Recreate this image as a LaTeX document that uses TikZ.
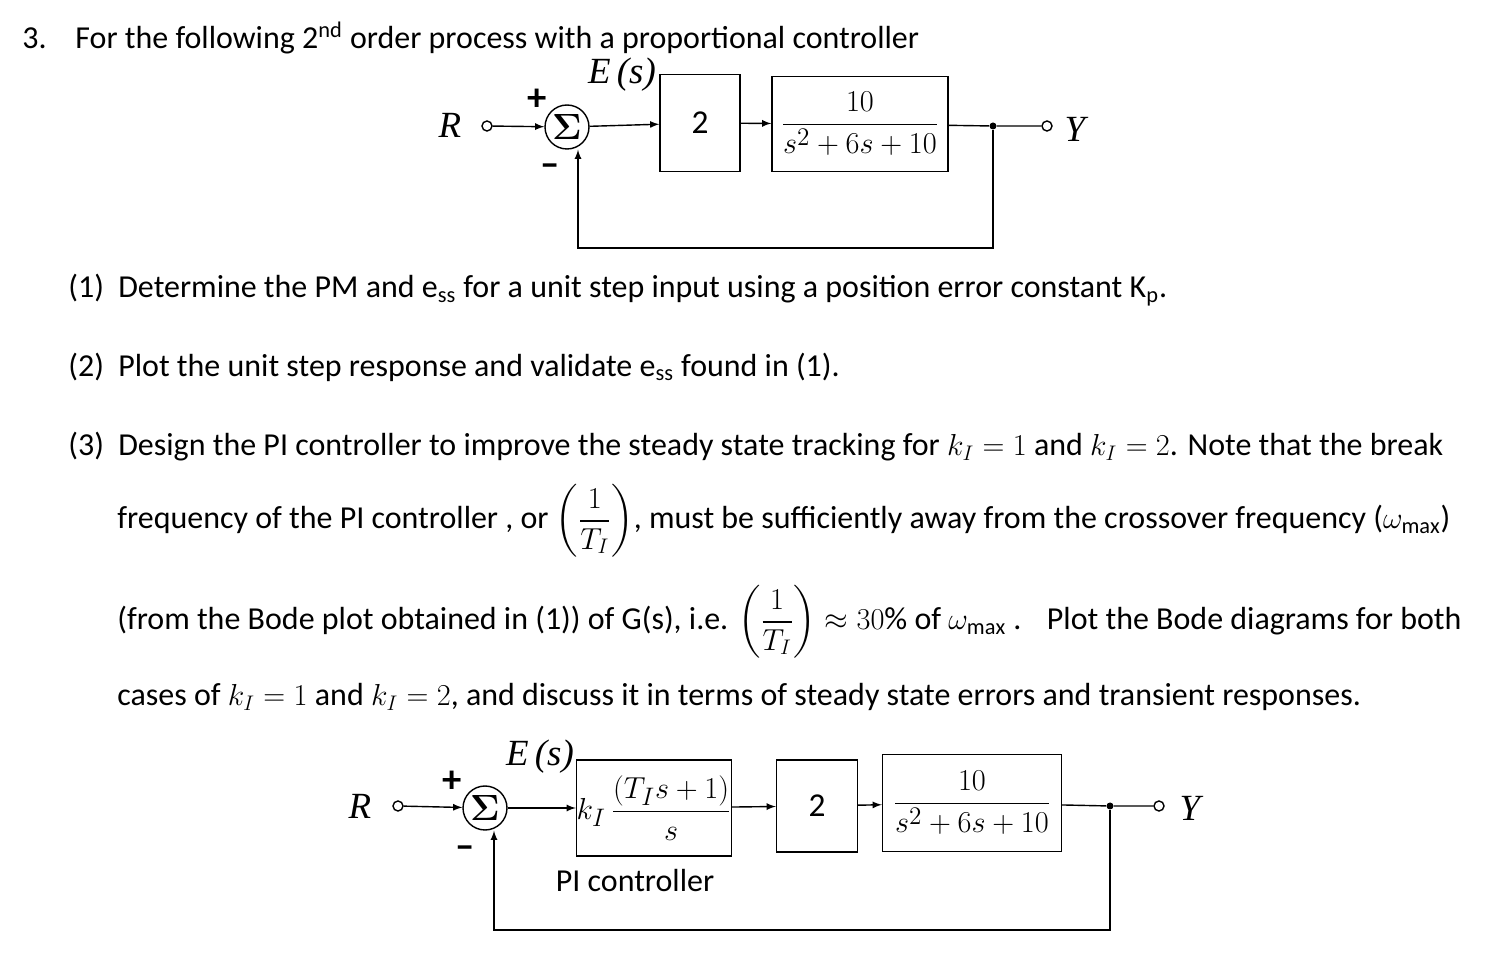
\documentclass[tikz,border=0pt]{standalone}
\usepackage{amsmath,bm}
\usepackage{fontspec}
\setmainfont{Carlito}
\newfontfamily\serifmath{Liberation Serif}
\usetikzlibrary{arrows,positioning,calc}

\begin{document}
\begin{tikzpicture}[
    x=0.02cm, y=-0.02cm,
    block/.style={rectangle, draw, thick, align=center, inner sep=0pt},
    sumnode/.style={circle, draw, thick, minimum size=0.88cm, inner sep=0pt, font=\fontsize{20}{24}\selectfont},
    terminal/.style={circle, draw, thick, minimum size=0.2cm, inner sep=0pt, fill=white},
    junction/.style={circle, fill, minimum size=0.14cm, inner sep=0pt},
    arrow/.style={->, >=latex, thick},
    txt/.style={anchor=west, font=\fontsize{18.2}{22}\selectfont, inner sep=0pt},
    big/.style={font=\fontsize{19}{23}\selectfont},
    lbl/.style={font=\fontsize{21}{24}\serifmath\itshape, inner sep=0pt},
    sign/.style={font=\fontsize{22}{24}\selectfont\bfseries}
]
\useasboundingbox (0,0) rectangle (1499,979);

% Question text
\node[txt] (q3) at (22,38) {3.\hspace{0.9em}For the following 2\textsuperscript{nd} order process with a proportional controller};
\node[txt] (p1) at (68,290) {(1)\hspace{0.45em}Determine the PM and e\textsubscript{ss} for a unit step input using a position error constant K\textsubscript{p}.};
\node[txt] (p2) at (68,367) {(2)\hspace{0.45em}Plot the unit step response and validate e\textsubscript{ss} found in (1).};
\node[txt] (p3) at (68,447) {(3)\hspace{0.45em}Design the PI controller to improve the steady state tracking for $k_I=1$ and $k_I=2$. Note that the break};
\node[txt] (p3b) at (117,521) {frequency of the PI controller , or $\left(\dfrac{1}{T_I}\right)$, must be sufficiently away from the crossover frequency ($\omega_{\mathrm{max}}$)};
\node[txt] (p3c) at (117,622) {(from the Bode plot obtained in (1)) of G(s), i.e. $\left(\dfrac{1}{T_I}\right)\approx 30\%$ of $\omega_{\mathrm{max}}$ .\hspace{0.8em}Plot the Bode diagrams for both};
\node[txt] (p3d) at (117,697) {cases of $k_I=1$ and $k_I=2$, and discuss it in terms of steady state errors and transient responses.};

% Diagram 1: proportional controller
\node[lbl] (rA) at (450,125) {R};
\node[terminal] (inA) at (487,126) {};
\node[sumnode] (sumA) at (567,127) {$\bm{\Sigma}$};
\node[block, minimum width=1.6cm, minimum height=1.94cm, big] (gainA) at (700,123) {2};
\node[block, minimum width=3.52cm, minimum height=1.9cm, big] (plantA) at (860,124) {$\dfrac{10}{s^2+6s+10}$};
\node[junction] (jA) at (993,126) {};
\node[terminal] (outA) at (1047,126) {};
\node[lbl] (yA) at (1075,129) {Y};
\node[lbl] (eA) at (622,75) {E\,(s)};
\node[sign] at (537,100) {+};
\node[sign] at (550,170) {--};
\coordinate (fbA) at (578,248);

\draw[arrow] (inA) -- (sumA);
\draw[arrow] (sumA) -- (gainA);
\draw[arrow] (gainA) -- (plantA);
\draw[thick] (plantA) -- (jA) -- (outA);
\draw[arrow] (jA) |- (fbA) -- (sumA.south -| fbA);

% Diagram 2: PI controller
\node[lbl] (rB) at (360,806) {R};
\node[terminal] (inB) at (398,806) {};
\node[sumnode] (sumB) at (485,808) {$\bm{\Sigma}$};
\node[block, minimum width=3.1cm, minimum height=1.92cm, big] (piB) at (654,808) {$k_I\,\dfrac{(T_Is+1)}{s}$};
\node[block, minimum width=1.62cm, minimum height=1.84cm, big] (gainB) at (817,806) {2};
\node[block, minimum width=3.58cm, minimum height=1.94cm, big] (plantB) at (972,803) {$\dfrac{10}{s^2+6s+10}$};
\node[junction] (jB) at (1110,806) {};
\node[terminal] (outB) at (1159,806) {};
\node[lbl] (yB) at (1190,808) {Y};
\node[lbl] (eB) at (540,757) {E\,(s)};
\node[sign] at (452,782) {+};
\node[sign] at (465,852) {--};
\node[font=\fontsize{18.2}{22}\selectfont] (piLabel) at (635,881) {PI controller};
\coordinate (fbB) at (494,930);

\draw[arrow] (inB) -- (sumB);
\draw[arrow] (sumB) -- (piB);
\draw[arrow] (piB) -- (gainB);
\draw[arrow] (gainB) -- (plantB);
\draw[thick] (plantB) -- (jB) -- (outB);
\draw[arrow] (jB) |- (fbB) -- (sumB.south -| fbB);

\end{tikzpicture}
\end{document}
